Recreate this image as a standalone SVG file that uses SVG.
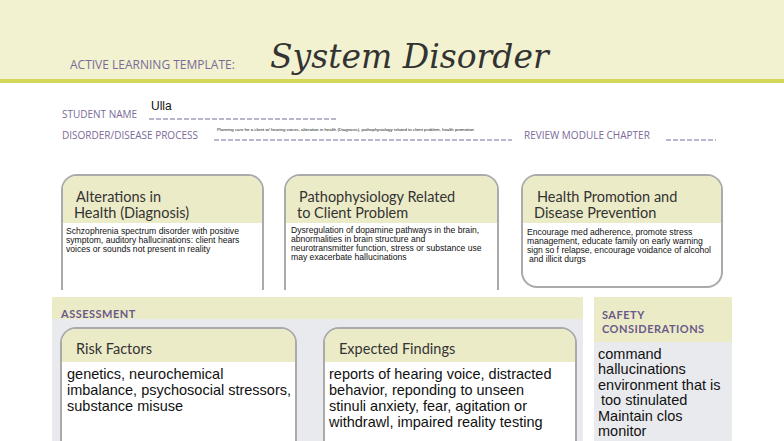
<svg xmlns="http://www.w3.org/2000/svg" width="784" height="441" viewBox="0 0 784 441">
<style>
.lbl{font-family:"Open Sans","Liberation Sans",sans-serif;fill:#7a6a9a;font-size:10px}
.hd{font-family:"Lato","Liberation Sans",sans-serif;fill:#333;font-size:14.5px}
.sm{font-family:"Liberation Sans",Arial,sans-serif;fill:#111;font-size:8.6px}
.big{font-family:"Liberation Sans",Arial,sans-serif;fill:#111;font-size:14.5px}
.box{fill:#fff;stroke:#aaa;stroke-width:2}
.cap{font-family:"Lato","Liberation Sans",sans-serif;fill:#6a5a8a;font-size:11px;font-weight:bold;letter-spacing:0.5px}
.ul{stroke:#7a6a9a;stroke-width:1;stroke-dasharray:5,2}
</style>
<rect width="784" height="441" fill="#fff"/>
<g id="header">
<rect width="784" height="79" fill="#f2f2d0"/>
<rect y="79" width="784" height="4" fill="#d4d65a"/>
<text x="70" y="69" class="lbl" style="font-size:12px">ACTIVE LEARNING TEMPLATE:</text>
<text x="270" y="68" font-family="'DejaVu Serif','Liberation Serif',serif" font-style="italic" font-size="33" fill="#333">System Disorder</text>
</g>
<g id="fields">
<text x="62" y="118" class="lbl">STUDENT NAME</text>
<text x="151" y="110" font-family="Liberation Sans,sans-serif" font-size="12" fill="#111">Ulla</text>
<line x1="149" y1="119" x2="337" y2="119" class="ul"/>
<text x="62" y="139" class="lbl">DISORDER/DISEASE PROCESS</text>
<text x="217" y="131" font-family="Liberation Sans,sans-serif" font-size="4.3" fill="#111">Planning care for a client w/ hearing voices, alteration in health (Diagnosis), pathophysiology related to client problem, health promotion</text>
<line x1="214" y1="140" x2="512" y2="140" class="ul"/>
<text x="524" y="139" class="lbl">REVIEW MODULE CHAPTER</text>
<line x1="666" y1="140" x2="716" y2="140" class="ul"/>
</g>
<g id="alterations">
<path class="box" d="M62,290 V190 a15,15 0 0 1 15,-15 H248 a15,15 0 0 1 15,15 V290"/>
<path d="M63,223 V190 a14,14 0 0 1 14,-14 H248 a14,14 0 0 1 14,14 V223 Z" fill="#ecebc8"/>
<text x="76" y="202" class="hd">Alterations in</text>
<text x="74" y="218" class="hd">Health (Diagnosis)</text>
<text x="66" y="234" class="sm">Schzophrenia spectrum disorder with positive</text>
<text x="66" y="243" class="sm">symptom, auditory hallucinations: client hears</text>
<text x="66" y="252" class="sm">voices or sounds not present in reality</text>
</g>
<g id="patho">
<path class="box" d="M285,290 V190 a15,15 0 0 1 15,-15 H483 a15,15 0 0 1 15,15 V290"/>
<path d="M286,223 V190 a14,14 0 0 1 14,-14 H483 a14,14 0 0 1 14,14 V223 Z" fill="#ecebc8"/>
<text x="299" y="202" class="hd">Pathophysiology Related</text>
<text x="297" y="218" class="hd">to Client Problem</text>
<text x="291" y="233" class="sm">Dysregulation of dopamine pathways in the brain,</text>
<text x="291" y="242" class="sm">abnormalities in brain structure and</text>
<text x="291" y="251" class="sm">neurotransmitter function, stress or substance use</text>
<text x="291" y="260" class="sm">may exacerbate hallucinations</text>
</g>
<g id="promotion">
<path class="box" d="M522,272 V190 a15,15 0 0 1 15,-15 H707 a15,15 0 0 1 15,15 V272 a15,15 0 0 1 -15,15 H537 a15,15 0 0 1 -15,-15 Z"/>
<path d="M523,223 V190 a14,14 0 0 1 14,-14 H707 a14,14 0 0 1 14,14 V223 Z" fill="#ecebc8"/>
<text x="537" y="202" class="hd">Health Promotion and</text>
<text x="534" y="218" class="hd">Disease Prevention</text>
<text x="527" y="235" class="sm">Encourage med adherence, promote stress</text>
<text x="527" y="244" class="sm">management, educate family on early warning</text>
<text x="527" y="253" class="sm">sign so f relapse, encourage voidance of alcohol</text>
<text x="529" y="262" class="sm">and illicit durgs</text>
</g>
<g id="assessment">
<rect x="52" y="297" width="531" height="144" fill="#e9eaee"/>
<rect x="52" y="297" width="531" height="22" fill="#ecebc8"/>
<text x="61" y="318" class="cap">ASSESSMENT</text>
</g>
<g id="risk">
<path class="box" d="M61,441 V343 a15,15 0 0 1 15,-15 H281 a15,15 0 0 1 15,15 V441"/>
<path d="M62,362 V343 a14,14 0 0 1 14,-14 H281 a14,14 0 0 1 14,14 V362 Z" fill="#ecebc8"/>
<text x="76" y="354" class="hd">Risk Factors</text>
<text x="67" y="379" class="big">genetics, neurochemical</text>
<text x="67" y="395" class="big">imbalance, psychosocial stressors,</text>
<text x="67" y="411" class="big">substance misuse</text>
</g>
<g id="findings">
<path class="box" d="M324,441 V343 a15,15 0 0 1 15,-15 H561 a15,15 0 0 1 15,15 V441"/>
<path d="M325,362 V343 a14,14 0 0 1 14,-14 H561 a14,14 0 0 1 14,14 V362 Z" fill="#ecebc8"/>
<text x="339" y="354" class="hd">Expected Findings</text>
<text x="329" y="379" class="big">reports of hearing voice, distracted</text>
<text x="329" y="395" class="big">behavior, reponding to unseen</text>
<text x="329" y="411" class="big">stinuli anxiety, fear, agitation or</text>
<text x="329" y="427" class="big">withdrawl, impaired reality testing</text>
</g>
<g id="safety">
<rect x="594" y="297" width="138" height="144" fill="#e9eaee"/>
<rect x="594" y="297" width="138" height="45" fill="#ecebc8"/>
<text x="602" y="319" class="cap">SAFETY</text>
<text x="602" y="333" class="cap">CONSIDERATIONS</text>
<text x="598" y="359" class="big">command</text>
<text x="598" y="374" class="big">hallucinations</text>
<text x="598" y="390" class="big">environment that is</text>
<text x="601" y="405" class="big">too stinulated</text>
<text x="598" y="421" class="big">Maintain clos</text>
<text x="598" y="436" class="big">monitor</text>
</g>
<g id="connectors"></g>
</svg>
